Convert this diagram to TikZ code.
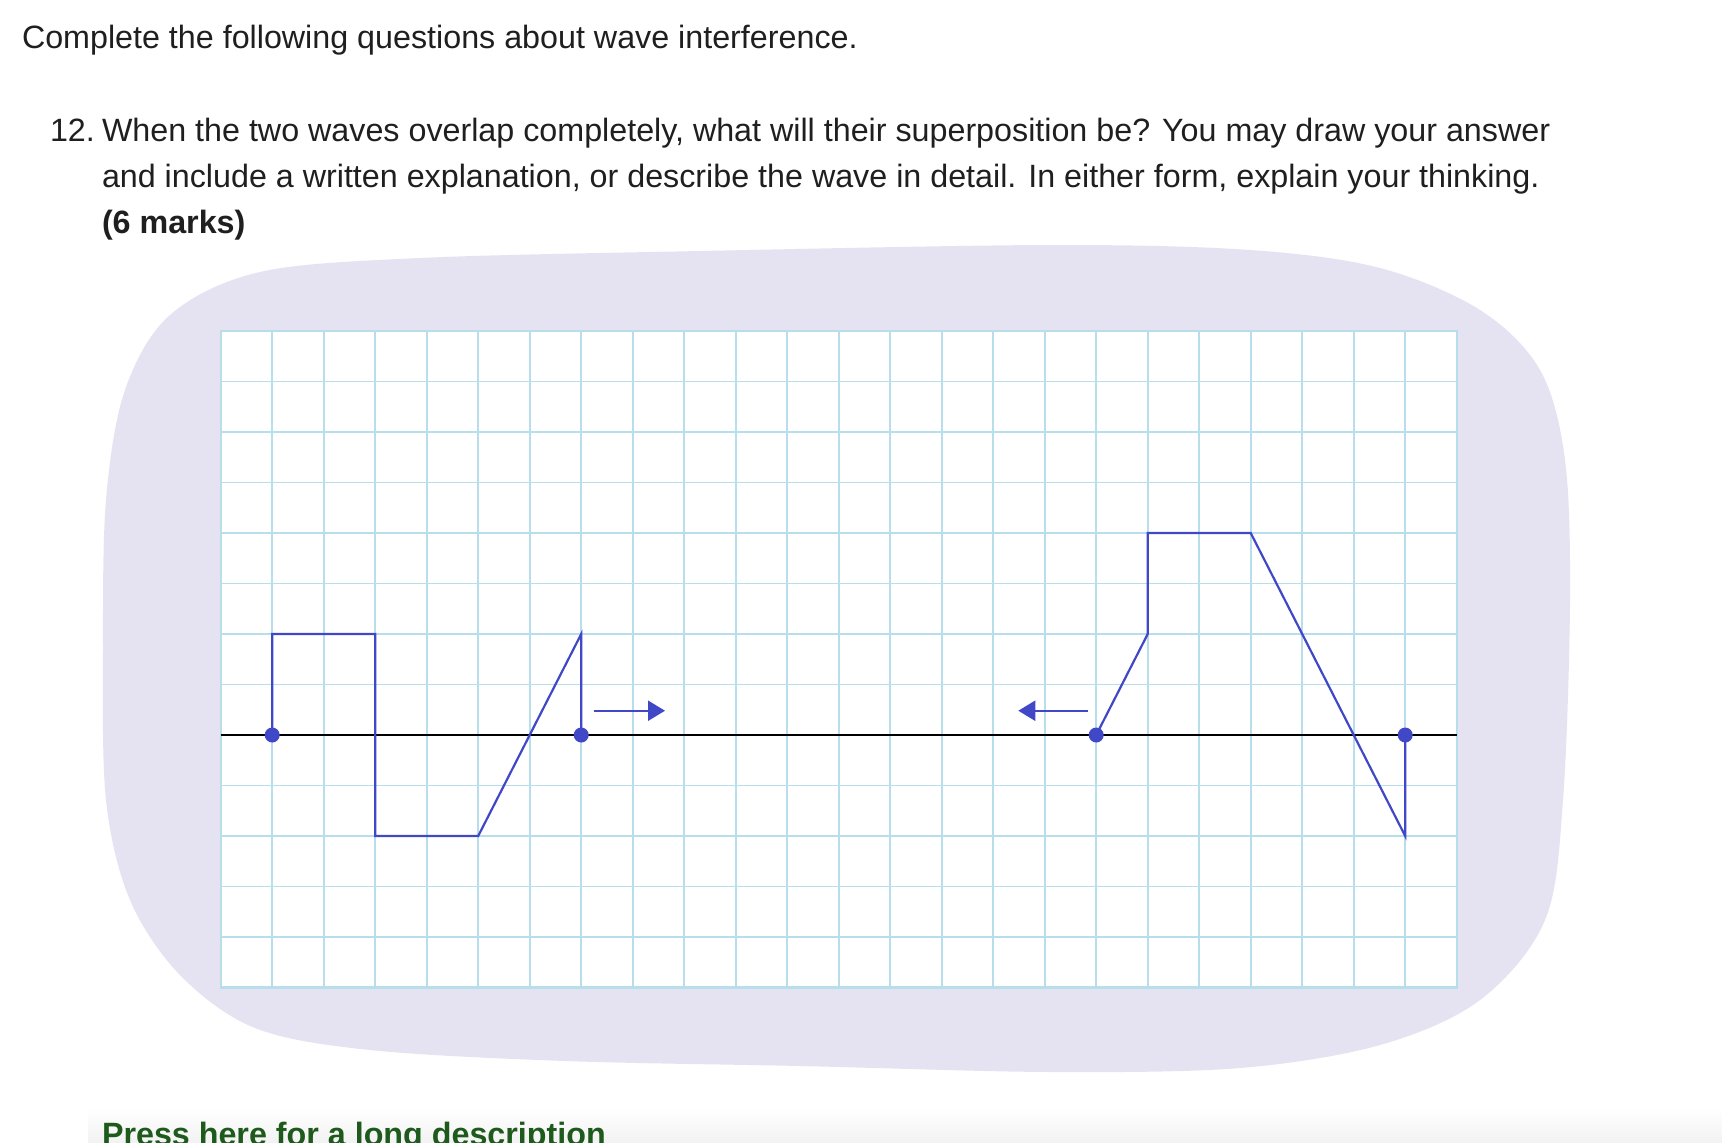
\documentclass[tikz,border=0pt]{standalone}
\usepackage{fontspec}
\setmainfont{Liberation Sans}
\usetikzlibrary{arrows.meta}
\definecolor{blobc}{HTML}{E5E3F1}
\definecolor{gridc}{HTML}{B8DDEB}
\definecolor{wavec}{HTML}{4048C8}
\definecolor{txtc}{HTML}{1F1F1F}
\definecolor{linkc}{HTML}{1E5A1C}
\begin{document}
\begin{tikzpicture}[x=0.5pt,y=-0.5pt,
  qtext/.style={anchor=base west, inner sep=0pt, outer sep=0pt, text=txtc, font=\fontsize{16.13}{20}\selectfont},
  gridline/.style={draw=gridc, line width=0.8pt},
  gridborder/.style={draw=gridc, line width=1.1pt},
  axisline/.style={draw=black, line width=1.25pt},
  waveline/.style={draw=wavec, line width=1.1pt, line join=miter},
  arrowline/.style={draw=wavec, line width=1.1pt, -{Triangle[length=8.5pt,width=10pt]}},
  dotnode/.style={circle, fill=wavec, minimum size=7.5pt, inner sep=0pt, outer sep=0pt}]
\useasboundingbox (0,0) rectangle (1722,1142);
\clip (0,0) rectangle (1722,1142);
\fill[white] (0,0) rectangle (1722,1142);

% texts
\node[qtext] (title) at (22,48) {Complete the following questions about wave interference.};
\node[qtext] (qnum) at (50,141) {12.};
\node[qtext] (l1) at (102,141) {When the two waves overlap completely, what will their superposition be? You may draw your answer};
\node[qtext] (l2) at (102,187) {and include a written explanation, or describe the wave in detail. In either form, explain your thinking.};
\node[qtext, font=\fontsize{16.13}{20}\selectfont\bfseries] (l3) at (102,233) {(6 marks)};

% blob
\fill[blobc] plot[smooth cycle, tension=0.55] coordinates {
 (420,258) (700,251) (1051,245) (1250,250) (1380,268) (1480,310) (1540,370)
 (1565,460) (1570,600) (1563,800) (1545,920) (1480,1000) (1380,1045) (1240,1068)
 (1051,1072) (800,1066) (565,1061) (370,1050) (255,1028) (180,975) (130,900)
 (106,800) (103,650) (106,500) (125,390) (170,315) (260,272)};

% bottom link area
\shade[top color=white, bottom color=black!5] (88,1108) rectangle (1722,1142);
\node[qtext, text=linkc, font=\fontsize{16.13}{20}\selectfont\bfseries] (link) at (102,1145) {Press here for a long description};

% grid
\begin{scope}[shift={(220.7,735)}, x=25.75pt, y=25.25pt]
  \fill[white] (0,-5) rectangle (24,8);
  \foreach \i in {1,...,23} \draw[gridline] (\i,-5) -- (\i,8);
  \foreach \j in {-4,...,7} \draw[gridline] (0,\j) -- (24,\j);
  \draw[gridborder] (0,-5) rectangle (24,8);
  \coordinate (axl) at (0,0);
  \coordinate (axr) at (24,0);
  \draw[axisline] (axl) -- (axr);

  \coordinate (a1) at (1,0);
  \coordinate (a2) at (7,0);
  \coordinate (b1) at (17,0);
  \coordinate (b2) at (23,0);
  \draw[waveline] (a1) -- (1,2) -- (3,2) -- (3,-2) -- (5,-2) -- (7,2) -- (a2);
  \draw[waveline] (b1) -- (18,2) -- (18,4) -- (20,4) -- (23,-2) -- (b2);

  \node[dotnode] (da1) at (a1) {};
  \node[dotnode] (da2) at (a2) {};
  \node[dotnode] (db1) at (b1) {};
  \node[dotnode] (db2) at (b2) {};

  \coordinate (ra) at (7.254,0.481);
  \coordinate (rb) at (8.627,0.481);
  \coordinate (la) at (16.847,0.481);
  \coordinate (lb) at (15.487,0.481);
  \draw[arrowline] (ra) -- (rb);
  \draw[arrowline] (la) -- (lb);
\end{scope}
\end{tikzpicture}
\end{document}
